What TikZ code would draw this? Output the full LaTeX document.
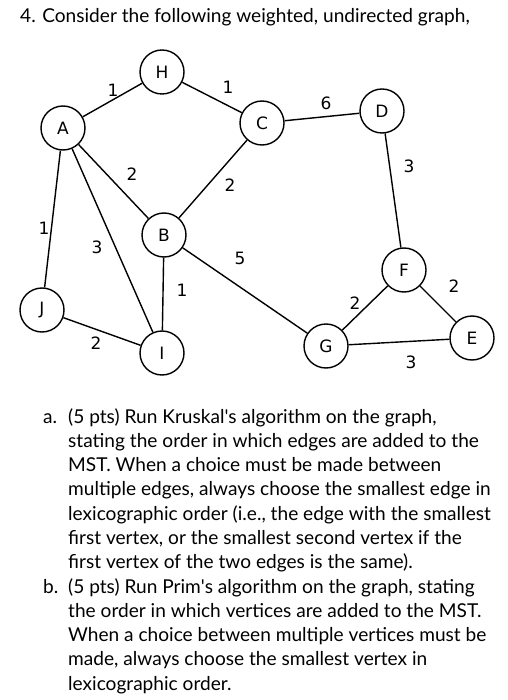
\documentclass[tikz,border=0pt]{standalone}
\usepackage{fontspec}
\setmainfont{Lato}
\newfontfamily\graphfont{DejaVu Sans}

\begin{document}
\begin{tikzpicture}[x=1pt,y=-1pt,
  vertex/.style={draw,circle,line width=1.4pt,minimum size=44pt,inner sep=0pt,
    font=\graphfont\fontsize{17}{17}\selectfont},
  weight/.style={inner sep=0pt,font=\graphfont\fontsize{17}{17}\selectfont},
  textline/.style={inner sep=0pt,anchor=base west,align=left,
    font=\fontsize{19.1}{24.3}\selectfont}]
  \useasboundingbox (0,0) rectangle (507,700);
  % title
  \node[textline] (title) at (20,23) {4. Consider the following weighted, undirected graph,};
  % vertices
  \node[vertex] (H) at (162,72) {H};
  \node[vertex] (A) at (63,128) {A};
  \node[vertex] (C) at (262,123) {C};
  \node[vertex] (D) at (382,111) {D};
  \node[vertex] (B) at (164,235) {B};
  \node[vertex] (F) at (404,270) {F};
  \node[vertex] (J) at (42,310) {J};
  \node[vertex] (I) at (162,353) {I};
  \node[vertex] (G) at (326,346) {G};
  \node[vertex] (E) at (472,338) {E};
  % edges
  \draw[line width=1.4pt] (A) -- (H);
  \draw[line width=1.4pt] (H) -- (C);
  \draw[line width=1.4pt] (C) -- (D);
  \draw[line width=1.4pt] (A) -- (B);
  \draw[line width=1.4pt] (C) -- (B);
  \draw[line width=1.4pt] (A) -- (J);
  \draw[line width=1.4pt] (A) -- (I);
  \draw[line width=1.4pt] (B) -- (I);
  \draw[line width=1.4pt] (J) -- (I);
  \draw[line width=1.4pt] (B) -- (G);
  \draw[line width=1.4pt] (D) -- (F);
  \draw[line width=1.4pt] (G) -- (F);
  \draw[line width=1.4pt] (F) -- (E);
  \draw[line width=1.4pt] (G) -- (E);
  % weights
  \node[weight] (wAH) at (113,90) {1};
  \node[weight] (wHC) at (228,87) {1};
  \node[weight] (wCD) at (326,103) {6};
  \node[weight] (wAB) at (132,174) {2};
  \node[weight] (wCB) at (230,185) {2};
  \node[weight] (wAJ) at (44,228) {1};
  \node[weight] (wAI) at (97,247) {3};
  \node[weight] (wBI) at (182,290) {1};
  \node[weight] (wJI) at (96,343) {2};
  \node[weight] (wBG) at (240,258) {5};
  \node[weight] (wDF) at (409,166) {3};
  \node[weight] (wGF) at (355,303) {2};
  \node[weight] (wFE) at (454,286) {2};
  \node[weight] (wGE) at (411,362) {3};
  % questions (base = last line)
  \node[textline] (a) at (43,423) {a.};
  \node[textline] (qa) at (68,568.8) {(5 pts) Run Kruskal\textquotesingle s algorithm on the graph,\\
    stating the order in which edges are added to the\\
    MST. When a choice must be made between\\
    multiple edges, always choose the smallest edge in\\
    lexicographic order (i.e., the edge with the smallest\\
    first vertex, or the smallest second vertex if the\\
    first vertex of the two edges is the same).};
  \node[textline] (b) at (43,593) {b.};
  \node[textline] (qb) at (68,690.2) {(5 pts) Run Prim\textquotesingle s algorithm on the graph, stating\\
    the order in which vertices are added to the MST.\\
    When a choice between multiple vertices must be\\
    made, always choose the smallest vertex in\\
    lexicographic order.};
\end{tikzpicture}
\end{document}
